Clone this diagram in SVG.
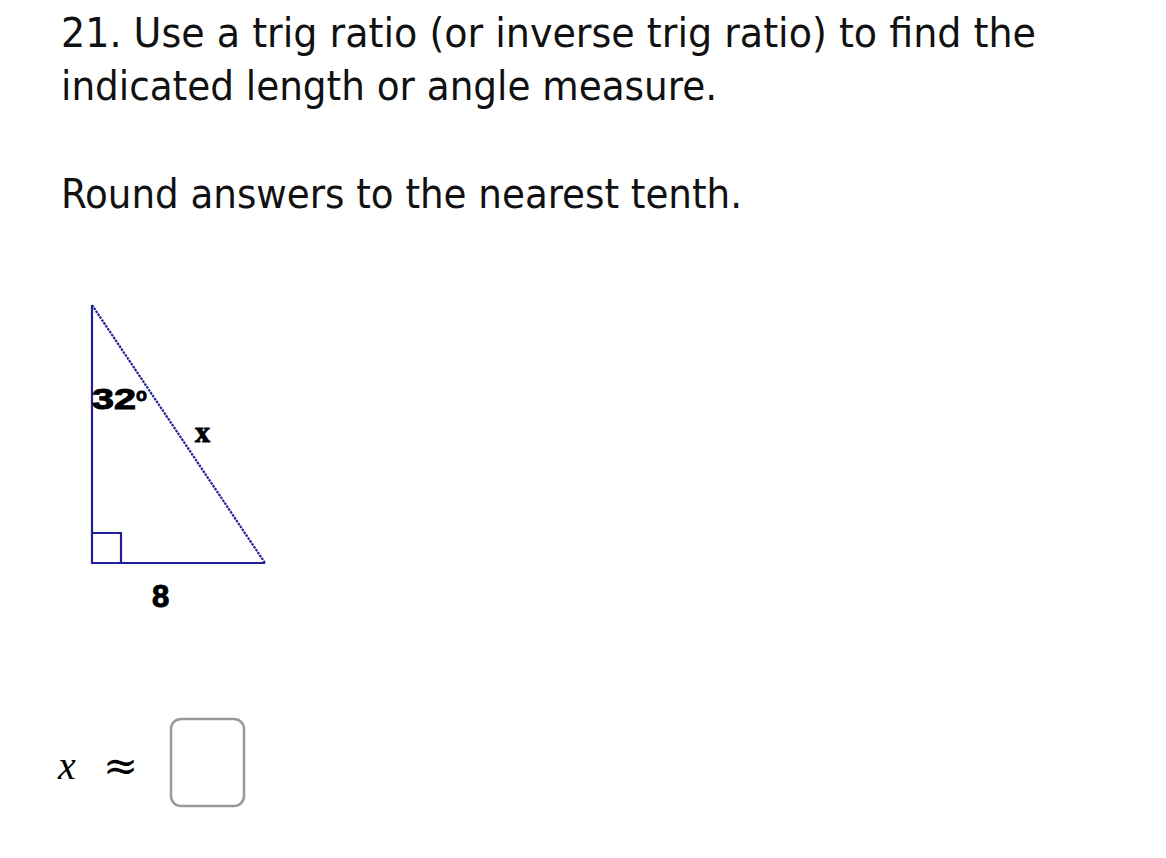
<svg xmlns="http://www.w3.org/2000/svg" width="1166" height="858" viewBox="0 0 1166 858">
<style>
.t{font-family:"DejaVu Sans Condensed","DejaVu Sans",sans-serif;font-size:40px;fill:#111}
.lbl{font-family:"Liberation Sans",Arial,sans-serif;font-weight:bold;fill:#000}
.edge{stroke:#1f1f99;stroke-width:2.2;fill:none}
</style>
<rect width="1166" height="858" fill="#fff"/>
<text class="t" x="61" y="47" textLength="975" lengthAdjust="spacingAndGlyphs">21. Use a trig ratio (or inverse trig ratio) to find the</text>
<text class="t" x="61" y="100" textLength="656" lengthAdjust="spacingAndGlyphs">indicated length or angle measure.</text>
<text class="t" x="61" y="208" textLength="681" lengthAdjust="spacingAndGlyphs">Round answers to the nearest tenth.</text>
<g id="triangle">
<path class="edge" d="M92 305 L92 563 L265 563"/>
<path class="edge" d="M92 305 L265 563" stroke-dasharray="2.5 1"/>
<path class="edge" d="M92 533 L121 533 L121 563"/>
</g>
<g id="labels">
<text class="lbl" x="92" y="409" font-size="30" textLength="44" lengthAdjust="spacingAndGlyphs" stroke="#000" stroke-width="1">32</text>
<text class="lbl" x="136" y="401" font-size="18" stroke="#000" stroke-width="0.8">o</text>
<text x="195" y="442" font-family="'Liberation Serif',serif" font-weight="bold" font-size="30" stroke="#000" stroke-width="1">x</text>
<text class="lbl" x="152" y="607" font-size="31" stroke="#000" stroke-width="1">8</text>
</g>
<g id="answer">
<text x="58" y="779" font-family="'Liberation Serif',serif" font-style="italic" font-size="40">x</text>
<text x="103" y="780" font-family="'DejaVu Serif',serif" font-size="42">≈</text>
<rect x="171" y="719" width="73" height="87" rx="10" fill="#fff" stroke="#999" stroke-width="2.5"/>
</g>
</svg>
